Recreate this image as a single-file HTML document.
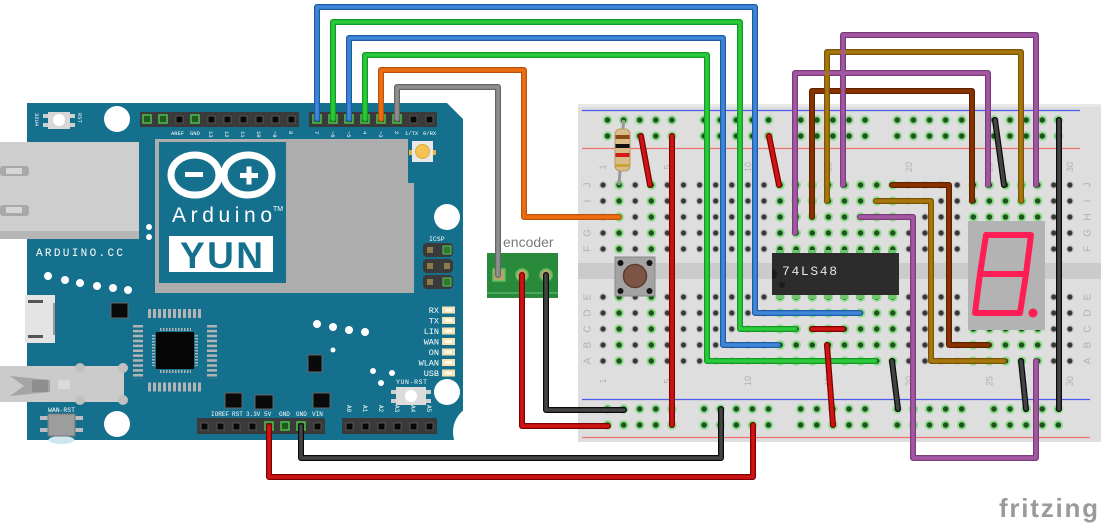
<!DOCTYPE html>
<html><head><meta charset="utf-8"><style>
html,body{margin:0;padding:0;background:#fff;}
svg{display:block;}
.w{fill:none;stroke-linejoin:round;stroke-linecap:round;}
.m{font-family:"Liberation Mono",monospace;fill:#fff;}
.bl{font-family:"Liberation Sans",sans-serif;fill:#b0b0b0;font-size:9px;}
</style></head><body>
<svg width="1104" height="528" viewBox="0 0 1104 528" xmlns="http://www.w3.org/2000/svg">
<defs>
 <pattern id="hd" x="594.95" y="177" width="16.1" height="16" patternUnits="userSpaceOnUse">
  <circle cx="8.05" cy="8" r="3.9" fill="#c3c3c3"/><circle cx="8.05" cy="8" r="2.6" fill="#383838"/>
 </pattern>
 <pattern id="hg" x="594.95" y="177" width="16.1" height="16" patternUnits="userSpaceOnUse">
  <rect width="16.1" height="16" fill="#dedede"/>
  <circle cx="8.05" cy="8" r="4.8" fill="#8ddc8d"/><circle cx="8.05" cy="8" r="2.8" fill="#1f521f"/>
 </pattern>
 <pattern id="rt" x="599.45" y="112" width="96.6" height="16" patternUnits="userSpaceOnUse">
  <g fill="#8ddc8d"><circle cx="8.05" cy="8" r="4.8"/><circle cx="24.15" cy="8" r="4.8"/><circle cx="40.25" cy="8" r="4.8"/><circle cx="56.35" cy="8" r="4.8"/><circle cx="72.45" cy="8" r="4.8"/></g>
  <g fill="#1f521f"><circle cx="8.05" cy="8" r="2.8"/><circle cx="24.15" cy="8" r="2.8"/><circle cx="40.25" cy="8" r="2.8"/><circle cx="56.35" cy="8" r="2.8"/><circle cx="72.45" cy="8" r="2.8"/></g>
 </pattern>
 <pattern id="rb" x="599.45" y="401" width="96.6" height="16" patternUnits="userSpaceOnUse">
  <g fill="#8ddc8d"><circle cx="8.05" cy="8" r="4.8"/><circle cx="24.15" cy="8" r="4.8"/><circle cx="40.25" cy="8" r="4.8"/><circle cx="56.35" cy="8" r="4.8"/><circle cx="72.45" cy="8" r="4.8"/></g>
  <g fill="#1f521f"><circle cx="8.05" cy="8" r="2.8"/><circle cx="24.15" cy="8" r="2.8"/><circle cx="40.25" cy="8" r="2.8"/><circle cx="56.35" cy="8" r="2.8"/><circle cx="72.45" cy="8" r="2.8"/></g>
 </pattern>
</defs>

<!-- ================= BREADBOARD ================= -->
<rect x="578" y="104" width="523" height="338" fill="#dedede"/>
<rect x="578" y="104" width="523" height="3" fill="#e8e8e8"/>
<rect x="578" y="263" width="523" height="16" fill="#cbcbcb"/>
<line x1="582" y1="110.5" x2="1080" y2="110.5" stroke="#4b5cf0" stroke-width="1.3"/>
<line x1="582" y1="148.5" x2="1080" y2="148.5" stroke="#f07272" stroke-width="1.3"/>
<line x1="582" y1="399.5" x2="1090" y2="399.5" stroke="#4b5cf0" stroke-width="1.3"/>
<line x1="582" y1="437.5" x2="1090" y2="437.5" stroke="#f07272" stroke-width="1.3"/>

<rect x="599.45" y="112" width="483" height="32" fill="url(#rt)"/>
<rect x="599.45" y="401" width="483" height="32" fill="url(#rb)"/>

<rect x="594.95" y="177" width="483" height="80" fill="url(#hd)"/>
<rect x="594.95" y="289" width="483" height="80" fill="url(#hd)"/>
<g fill="url(#hg)">
 <rect x="611.05" y="177" width="16.1" height="80"/><rect x="643.25" y="177" width="16.1" height="80"/>
 <rect x="772.05" y="177" width="128.8" height="80"/><rect x="965.25" y="177" width="80.5" height="80"/>
 <rect x="611.05" y="289" width="16.1" height="80"/><rect x="643.25" y="289" width="16.1" height="80"/>
 <rect x="772.05" y="289" width="128.8" height="80"/><rect x="965.25" y="289" width="80.5" height="80"/>
</g>

<!-- column numbers -->
<g class="bl" text-anchor="middle">
 <text transform="translate(603,167) rotate(-90)" dy="3">1</text>
 <text transform="translate(667.4,167) rotate(-90)" dy="3">5</text>
 <text transform="translate(747.9,167) rotate(-90)" dy="3">10</text>
 <text transform="translate(828.4,167) rotate(-90)" dy="3">15</text>
 <text transform="translate(908.9,167) rotate(-90)" dy="3">20</text>
 <text transform="translate(989.4,167) rotate(-90)" dy="3">25</text>
 <text transform="translate(1069.9,167) rotate(-90)" dy="3">30</text>
 <text transform="translate(603,381) rotate(-90)" dy="3">1</text>
 <text transform="translate(667.4,381) rotate(-90)" dy="3">5</text>
 <text transform="translate(747.9,381) rotate(-90)" dy="3">10</text>
 <text transform="translate(828.4,381) rotate(-90)" dy="3">15</text>
 <text transform="translate(908.9,381) rotate(-90)" dy="3">20</text>
 <text transform="translate(989.4,381) rotate(-90)" dy="3">25</text>
 <text transform="translate(1069.9,381) rotate(-90)" dy="3">30</text>
</g>
<g class="bl" text-anchor="middle" style="font-size:10px">
 <text transform="translate(587,185) rotate(-90)" dy="3.5">J</text>
 <text transform="translate(587,201) rotate(-90)" dy="3.5">I</text>
 <text transform="translate(587,217) rotate(-90)" dy="3.5">H</text>
 <text transform="translate(587,233) rotate(-90)" dy="3.5">G</text>
 <text transform="translate(587,249) rotate(-90)" dy="3.5">F</text>
 <text transform="translate(587,297) rotate(-90)" dy="3.5">E</text>
 <text transform="translate(587,313) rotate(-90)" dy="3.5">D</text>
 <text transform="translate(587,329) rotate(-90)" dy="3.5">C</text>
 <text transform="translate(587,345) rotate(-90)" dy="3.5">B</text>
 <text transform="translate(587,361) rotate(-90)" dy="3.5">A</text>
 <text transform="translate(1087,185) rotate(-90)" dy="3.5">J</text>
 <text transform="translate(1087,201) rotate(-90)" dy="3.5">I</text>
 <text transform="translate(1087,217) rotate(-90)" dy="3.5">H</text>
 <text transform="translate(1087,233) rotate(-90)" dy="3.5">G</text>
 <text transform="translate(1087,249) rotate(-90)" dy="3.5">F</text>
 <text transform="translate(1087,297) rotate(-90)" dy="3.5">E</text>
 <text transform="translate(1087,313) rotate(-90)" dy="3.5">D</text>
 <text transform="translate(1087,329) rotate(-90)" dy="3.5">C</text>
 <text transform="translate(1087,345) rotate(-90)" dy="3.5">B</text>
 <text transform="translate(1087,361) rotate(-90)" dy="3.5">A</text>
</g>

<!-- 74LS48 chip -->
<g fill="#6cc46c">
 <rect x="776" y="250" width="8" height="6"/><rect x="792" y="250" width="8" height="6"/><rect x="808" y="250" width="8" height="6"/><rect x="824" y="250" width="8" height="6"/><rect x="840" y="250" width="8" height="6"/><rect x="856" y="250" width="8" height="6"/><rect x="872" y="250" width="8" height="6"/><rect x="888" y="250" width="8" height="6"/>
 <rect x="776" y="293" width="8" height="6"/><rect x="792" y="293" width="8" height="6"/><rect x="808" y="293" width="8" height="6"/><rect x="824" y="293" width="8" height="6"/><rect x="840" y="293" width="8" height="6"/><rect x="856" y="293" width="8" height="6"/><rect x="872" y="293" width="8" height="6"/><rect x="888" y="293" width="8" height="6"/>
</g>
<rect x="772" y="253" width="127" height="42" fill="#2c2c2c"/>
<path d="M772,269 A5,5 0 0 1 772,279 Z" fill="#1a1a1a"/>
<circle cx="782" cy="285" r="3" fill="#1c1c1c"/>
<text x="782" y="275" font-family="Liberation Mono, monospace" font-size="13" fill="#e6e6e6" textLength="55">74LS48</text>

<!-- 7 segment display -->
<rect x="968" y="221" width="77" height="109" fill="#b3b3b3"/>
<g class="w" stroke="#ff1d55" stroke-width="6">
 <polygon points="986,235 1031,235 1026,274 980,274"/>
 <polyline points="980,274 975,313 1020,313 1026,274"/>
</g>
<circle cx="1033" cy="313" r="4.5" fill="#ff1d55"/>

<!-- resistor -->
<line x1="623.6" y1="120" x2="619" y2="185" stroke="#9a9a9a" stroke-width="3"/>
<rect x="615" y="129" width="15" height="42" rx="5" fill="#d9bd88" stroke="#b59a66" stroke-width="1"/>
<rect x="615.5" y="135" width="14" height="4" fill="#8a4a10"/>
<rect x="615.5" y="144" width="14" height="4" fill="#111"/>
<rect x="615.5" y="153" width="14" height="4" fill="#d41a1a"/>
<rect x="615.5" y="164" width="14" height="3" fill="#c9a33a"/>

<!-- pushbutton -->
<rect x="615" y="257" width="40" height="39" fill="#a3a3a3" stroke="#8a8a8a"/>
<circle cx="635" cy="276" r="11.5" fill="#7d5545" stroke="#5d3a2d" stroke-width="1.5"/>
<g fill="#151515"><circle cx="620.5" cy="263" r="3"/><circle cx="649.5" cy="263" r="3"/><circle cx="620.5" cy="291" r="3"/><circle cx="649.5" cy="291" r="3"/></g>

<!-- encoder -->
<text x="503" y="247" font-family="Liberation Sans, sans-serif" font-size="14" fill="#7a7a7a">encoder</text>
<rect x="487" y="253" width="71" height="45" fill="#2a8a3b"/>
<rect x="487" y="292" width="71" height="2" fill="#4aa85a"/>
<rect x="493" y="269" width="12" height="12" fill="#b7a46a" stroke="#5cc05c" stroke-width="1.5"/>
<circle cx="522" cy="275" r="6" fill="#b7a46a" stroke="#5cc05c" stroke-width="1.5"/>
<circle cx="546" cy="275" r="6" fill="#b7a46a" stroke="#5cc05c" stroke-width="1.5"/>

<!-- ================= ARDUINO YUN ================= -->
<path d="M27,103 H447 L463,119 V440 H27 Z" fill="#14708c"/>
<circle cx="481" cy="432" r="28" fill="#fff"/>

<!-- ethernet -->
<rect x="0" y="142" width="139" height="97" fill="#cecece"/>
<rect x="0" y="231" width="139" height="8" fill="#b6b6b6"/>
<rect x="0" y="166" width="29" height="10" rx="3" fill="#a8a8a8"/>
<rect x="6" y="168" width="16" height="6" fill="#d6d6d6"/>
<rect x="0" y="205" width="29" height="11" rx="3" fill="#a8a8a8"/>
<rect x="6" y="207" width="16" height="6" fill="#d6d6d6"/>

<!-- reset button top-left -->
<rect x="43" y="114" width="32" height="4" fill="#cfcfcf"/><rect x="43" y="123" width="32" height="4" fill="#cfcfcf"/>
<rect x="48" y="112" width="22" height="17" fill="#d8d8d8"/>
<circle cx="59" cy="120" r="6" fill="#fff"/>
<text class="m" font-size="5.5" transform="translate(35,113) rotate(90)">32U4</text>
<text class="m" font-size="5.5" transform="translate(78,113) rotate(90)">RST</text>

<!-- mounting holes -->
<g fill="#fff">
 <circle cx="117" cy="119" r="13"/><circle cx="447" cy="217" r="13"/>
 <circle cx="447" cy="392" r="13"/><circle cx="117" cy="424" r="13"/>
 <circle cx="149" cy="227" r="3"/><circle cx="149" cy="237" r="3"/>
 <circle cx="48" cy="276" r="4"/><circle cx="65" cy="280" r="4"/><circle cx="80" cy="283" r="4"/>
 <circle cx="97" cy="286" r="4"/><circle cx="113" cy="288" r="4"/><circle cx="128" cy="290" r="4"/>
 <circle cx="317" cy="324" r="4"/><circle cx="333" cy="327" r="4"/><circle cx="349" cy="330" r="4"/><circle cx="365" cy="332" r="4"/>
 <circle cx="333" cy="350" r="2.5"/>
 <circle cx="373" cy="371" r="3"/><circle cx="392" cy="373" r="3"/><circle cx="381" cy="383" r="3"/>
</g>

<text class="m" x="36" y="256" font-size="11" textLength="87">ARDUINO.CC</text>

<!-- wifi module + logo -->
<path d="M155,139 H408 V183 H414 V293 H155 Z" fill="#adadad"/>
<rect x="159" y="142" width="127" height="141" fill="#14708c"/>
<g fill="none" stroke="#fff" stroke-width="7">
 <ellipse cx="195" cy="175" rx="24" ry="20"/>
 <ellipse cx="248" cy="175" rx="24" ry="20"/>
</g>
<rect x="185" y="172" width="18" height="5" fill="#fff"/>
<rect x="240" y="173" width="18" height="5" fill="#fff"/>
<rect x="246.5" y="166.5" width="5" height="18" fill="#fff"/>
<text x="172" y="222" font-family="Liberation Sans, sans-serif" font-size="21" fill="#fff" textLength="100">Arduino</text>
<text x="273" y="211" font-family="Liberation Sans, sans-serif" font-size="7" fill="#fff">TM</text>
<rect x="169" y="236" width="104" height="36" fill="#fff"/>
<text x="180" y="268" font-family="Liberation Sans, sans-serif" font-weight="bold" font-size="37" fill="#14708c" textLength="83">YUN</text>

<!-- antenna -->
<rect x="409" y="150" width="27" height="5" fill="#f0b040"/>
<rect x="412" y="141" width="21" height="21" fill="#e9e9e9"/>
<circle cx="422.5" cy="151.5" r="7" fill="#f3c353" stroke="#e0a838" stroke-width="1"/>

<!-- ICSP -->
<text class="m" x="429" y="241" font-size="6.5">ICSP</text>
<rect x="423" y="243" width="30" height="14" rx="4" fill="#3a3a3a"/>
<rect x="423" y="259" width="30" height="14" rx="4" fill="#3a3a3a"/>
<rect x="423" y="275" width="30" height="14" rx="4" fill="#3a3a3a"/>
<g fill="#8a7c4c"><rect x="427" y="247" width="6" height="6"/><rect x="427" y="263" width="6" height="6"/><rect x="444" y="263" width="6" height="6"/><rect x="427" y="279" width="6" height="6"/></g>
<g fill="#2f7a30" stroke="#5fbf5f"><rect x="443" y="246" width="8" height="8"/><rect x="443" y="278" width="8" height="8"/></g>

<!-- micro usb -->
<rect x="25" y="295" width="30" height="48" fill="#e4e4e4"/>
<rect x="28" y="300" width="15" height="3" fill="#555"/>
<rect x="28" y="335" width="15" height="3" fill="#555"/>
<rect x="53" y="303" width="2" height="32" fill="#999"/>

<!-- black components -->
<g fill="#0a0a0a" stroke="#666" stroke-width="1">
 <rect x="111" y="303" width="17" height="15"/>
 <rect x="225" y="393" width="17" height="15"/>
 <rect x="255" y="395" width="18" height="14"/>
 <rect x="313" y="393" width="17" height="15"/>
 <rect x="308" y="355" width="14" height="17"/>
</g>

<!-- main chip -->
<g stroke="#b3b3b3" fill="none">
 <line x1="148" y1="313.5" x2="203" y2="313.5" stroke-width="9" stroke-dasharray="3 2"/>
 <line x1="148" y1="387" x2="203" y2="387" stroke-width="9" stroke-dasharray="3 2"/>
 <line x1="138" y1="325" x2="138" y2="379" stroke-width="10" stroke-dasharray="2.5 2.4"/>
 <line x1="212" y1="325" x2="212" y2="379" stroke-width="10" stroke-dasharray="2.5 2.4"/>
 <line x1="160" y1="329.5" x2="191" y2="329.5" stroke-width="3" stroke-dasharray="1.5 1.5"/>
 <line x1="160" y1="371.5" x2="191" y2="371.5" stroke-width="3" stroke-dasharray="1.5 1.5"/>
 <line x1="153.5" y1="335" x2="153.5" y2="366" stroke-width="3" stroke-dasharray="1.5 1.5"/>
 <line x1="196.5" y1="335" x2="196.5" y2="366" stroke-width="3" stroke-dasharray="1.5 1.5"/>
</g>
<rect x="156" y="332" width="38" height="37" fill="#050505"/>

<!-- USB-A host -->
<rect x="0" y="366" width="124" height="36" fill="#cbcbcb"/>
<g fill="#c0c0c0"><circle cx="80" cy="368" r="5"/><circle cx="123" cy="368" r="5"/><circle cx="80" cy="400" r="5"/><circle cx="123" cy="400" r="5"/></g>
<polygon points="10,376 50,380 50,392 10,396 24,386" fill="#a5a5a5"/>
<rect x="32" y="380" width="16" height="12" fill="#8e8e8e"/>
<rect x="58" y="380" width="12" height="9" fill="#dadada"/>

<!-- WAN-RST -->
<text class="m" x="48" y="412" font-size="6.5" textLength="27">WAN-RST</text>
<ellipse cx="61.5" cy="440" rx="13" ry="4" fill="#cfe6ee"/>
<g fill="#bdbdbd"><rect x="40" y="416" width="43" height="4"/><rect x="40" y="428" width="43" height="4"/></g>
<rect x="48" y="414" width="27" height="22" fill="#9d9d9d" stroke="#777"/>

<!-- LEDs -->
<g class="m" font-size="8.5" text-anchor="end">
 <text x="439" y="313">RX</text><text x="439" y="323.5">TX</text><text x="439" y="334">LIN</text>
 <text x="439" y="344.5">WAN</text><text x="439" y="355">ON</text><text x="439" y="365.5">WLAN</text><text x="439" y="376">USB</text>
</g>
<g fill="#f2e2b5"><rect x="442" y="306.5" width="13" height="7"/><rect x="442" y="317" width="13" height="7"/><rect x="442" y="327.5" width="13" height="7"/><rect x="442" y="338" width="13" height="7"/><rect x="442" y="348.5" width="13" height="7"/><rect x="442" y="359" width="13" height="7"/><rect x="442" y="369.5" width="13" height="7"/></g>
<g fill="#fffbee"><rect x="445" y="308.5" width="7" height="3"/><rect x="445" y="319" width="7" height="3"/><rect x="445" y="329.5" width="7" height="3"/><rect x="445" y="340" width="7" height="3"/><rect x="445" y="350.5" width="7" height="3"/><rect x="445" y="361" width="7" height="3"/><rect x="445" y="371.5" width="7" height="3"/></g>

<!-- YUN-RST -->
<text class="m" x="396" y="384" font-size="6.5" textLength="31">YUN-RST</text>
<g fill="#cfcfcf"><rect x="391" y="390" width="40" height="4"/><rect x="391" y="399" width="40" height="4"/></g>
<rect x="396" y="387" width="30" height="18" fill="#dcdcdc"/>
<circle cx="411" cy="396" r="6" fill="#fff"/>

<!-- headers top -->
<rect x="140" y="112" width="159" height="15" fill="#3a3a3a"/>
<rect x="309" y="112" width="128" height="15" fill="#3a3a3a"/>
<g fill="#080808" stroke="#555" stroke-width="1">
 <rect x="176" y="116" width="7" height="7"/><rect x="208" y="116" width="7" height="7"/><rect x="224" y="116" width="7" height="7"/><rect x="240" y="116" width="7" height="7"/><rect x="256" y="116" width="7" height="7"/><rect x="272" y="116" width="7" height="7"/><rect x="288" y="116" width="7" height="7"/>
 <rect x="410" y="116" width="7" height="7"/><rect x="426" y="116" width="7" height="7"/>
</g>
<g fill="#1e5a1e" stroke="#4fbf4f" stroke-width="1.5">
 <rect x="143" y="115" width="8" height="8"/><rect x="159" y="115" width="8" height="8"/><rect x="191" y="115" width="8" height="8"/>
 <rect x="313" y="115" width="8" height="8"/><rect x="329" y="115" width="8" height="8"/><rect x="345" y="115" width="8" height="8"/><rect x="361" y="115" width="8" height="8"/><rect x="377" y="115" width="8" height="8"/><rect x="393" y="115" width="8" height="8"/>
</g>
<g class="m" font-size="5.5">
 <text x="171" y="135">AREF</text><text x="190" y="135">GND</text>
 <text transform="translate(209,131) rotate(90)">13</text><text transform="translate(225,131) rotate(90)">12</text>
 <text transform="translate(241,131) rotate(90)">11</text><text transform="translate(257,131) rotate(90)">10</text>
 <text transform="translate(273,131) rotate(90)">~9</text><text transform="translate(289,131) rotate(90)">8</text>
 <text transform="translate(315,131) rotate(90)">7</text><text transform="translate(331,131) rotate(90)">~6</text>
 <text transform="translate(347,131) rotate(90)">~5</text><text transform="translate(363,131) rotate(90)">4</text>
 <text transform="translate(379,131) rotate(90)">~3</text><text transform="translate(395,131) rotate(90)">2</text>
 <text x="405" y="135">1/TX</text><text x="423" y="135">0/RX</text>
</g>

<!-- headers bottom -->
<rect x="197" y="418" width="128" height="16" fill="#3a3a3a"/>
<rect x="342" y="418" width="95" height="16" fill="#3a3a3a"/>
<g fill="#080808" stroke="#555" stroke-width="1">
 <rect x="201" y="423" width="7" height="7"/><rect x="217" y="423" width="7" height="7"/><rect x="233" y="423" width="7" height="7"/><rect x="249" y="423" width="7" height="7"/><rect x="314" y="423" width="7" height="7"/>
 <rect x="346" y="423" width="7" height="7"/><rect x="362" y="423" width="7" height="7"/><rect x="378" y="423" width="7" height="7"/><rect x="394" y="423" width="7" height="7"/><rect x="410" y="423" width="7" height="7"/><rect x="426" y="423" width="7" height="7"/>
</g>
<g fill="#1e5a1e" stroke="#4fbf4f" stroke-width="1.5">
 <rect x="265" y="422" width="8" height="8"/><rect x="281" y="422" width="8" height="8"/><rect x="297" y="422" width="8" height="8"/>
</g>
<g class="m" font-size="6">
 <text x="211" y="416">IOREF</text><text x="232" y="416">RST</text><text x="246" y="416">3.3V</text>
 <text x="264" y="416">5V</text><text x="279" y="416">GND</text><text x="296" y="416">GND</text><text x="312" y="416">VIN</text>
 <text transform="translate(347,405) rotate(90)">A0</text><text transform="translate(363,405) rotate(90)">A1</text>
 <text transform="translate(379,405) rotate(90)">A2</text><text transform="translate(395,405) rotate(90)">A3</text>
 <text transform="translate(411,405) rotate(90)">A4</text><text transform="translate(427,405) rotate(90)">A5</text>
</g>

<!-- ================= WIRES ================= -->
<!-- blue -->
<g class="w" stroke="#1f5ca6" stroke-width="6">
 <polyline points="317,119 317,7 755,7 755,313 860,313"/>
 <polyline points="349,119 349,38 723,38 723,345 778,345"/>
</g>
<g class="w" stroke="#3f86d8" stroke-width="3.5">
 <polyline points="317,119 317,7 755,7 755,313 860,313"/>
 <polyline points="349,119 349,38 723,38 723,345 778,345"/>
</g>
<!-- green -->
<g class="w" stroke="#129a22" stroke-width="6">
 <polyline points="333,119 333,22 740,22 740,329 795,329"/>
 <polyline points="365,119 365,55 707,55 707,361 875,361"/>
</g>
<g class="w" stroke="#2bc93b" stroke-width="3.5">
 <polyline points="333,119 333,22 740,22 740,329 795,329"/>
 <polyline points="365,119 365,55 707,55 707,361 875,361"/>
</g>
<!-- orange -->
<polyline class="w" points="381,119 381,70 524,70 524,217 619,217" stroke="#b85410" stroke-width="6"/>
<polyline class="w" points="381,119 381,70 524,70 524,217 619,217" stroke="#ec6e10" stroke-width="3.5"/>
<!-- grey -->
<polyline class="w" points="397,119 397,87 498,87 498,275" stroke="#666" stroke-width="6"/>
<polyline class="w" points="397,119 397,87 498,87 498,275" stroke="#8f8f8f" stroke-width="3.5"/>

<!-- purple / brown / ochre top -->
<g class="w" stroke-width="6">
 <polyline points="795,233 795,73 988,73 988,185" stroke="#7a3d7a"/>
 <polyline points="812,217 812,91 972,91 972,201" stroke="#5e2200"/>
 <polyline points="827,201 827,52 1021,52 1021,201" stroke="#7a5506"/>
 <polyline points="843,185 843,35 1036,35 1036,185" stroke="#7a3d7a"/>
 <polyline points="892,185 949,185 949,345 988,345" stroke="#5e2200"/>
 <polyline points="876,201 931,201 931,361 1004,361" stroke="#7a5506"/>
 <polyline points="860,217 913,217 913,458 1036,458 1036,361" stroke="#7a3d7a"/>
</g>
<g class="w" stroke-width="3.5">
 <polyline points="795,233 795,73 988,73 988,185" stroke="#a458a4"/>
 <polyline points="812,217 812,91 972,91 972,201" stroke="#8a3300"/>
 <polyline points="827,201 827,52 1021,52 1021,201" stroke="#a8780f"/>
 <polyline points="843,185 843,35 1036,35 1036,185" stroke="#a458a4"/>
 <polyline points="892,185 949,185 949,345 988,345" stroke="#8a3300"/>
 <polyline points="876,201 931,201 931,361 1004,361" stroke="#a8780f"/>
 <polyline points="860,217 913,217 913,458 1036,458 1036,361" stroke="#a458a4"/>
</g>

<!-- red -->
<g class="w" stroke="#7e0000" stroke-width="6">
 <polyline points="522,275 522,426 608,426"/>
 <polyline points="672,136 672,425"/>
 <polyline points="641,136 650,185"/>
 <polyline points="769,136 779,185"/>
 <polyline points="269,426 269,477 753,477 753,425"/>
 <polyline points="812,329 843,329"/>
 <polyline points="827,345 833,425"/>
</g>
<g class="w" stroke="#d01414" stroke-width="3.5">
 <polyline points="522,275 522,426 608,426"/>
 <polyline points="672,136 672,425"/>
 <polyline points="641,136 650,185"/>
 <polyline points="769,136 779,185"/>
 <polyline points="269,426 269,477 753,477 753,425"/>
 <polyline points="812,329 843,329"/>
 <polyline points="827,345 833,425"/>
</g>

<!-- black -->
<g class="w" stroke="#0a0a0a" stroke-width="6">
 <polyline points="546,275 546,410 624,410"/>
 <polyline points="995,120 1004,185"/>
 <polyline points="1059,120 1059,409"/>
 <polyline points="892,361 898,409"/>
 <polyline points="1021,361 1026,409"/>
 <polyline points="301,426 301,458 721,458 721,409"/>
</g>
<g class="w" stroke="#444" stroke-width="3.5">
 <polyline points="546,275 546,410 624,410"/>
 <polyline points="995,120 1004,185"/>
 <polyline points="1059,120 1059,409"/>
 <polyline points="892,361 898,409"/>
 <polyline points="1021,361 1026,409"/>
 <polyline points="301,426 301,458 721,458 721,409"/>
</g>

<!-- fritzing logo -->
<text x="999" y="517" font-family="Liberation Sans, sans-serif" font-weight="bold" font-size="26" fill="#9a9a9a" textLength="99">fritzing</text>
</svg>
</body></html>
